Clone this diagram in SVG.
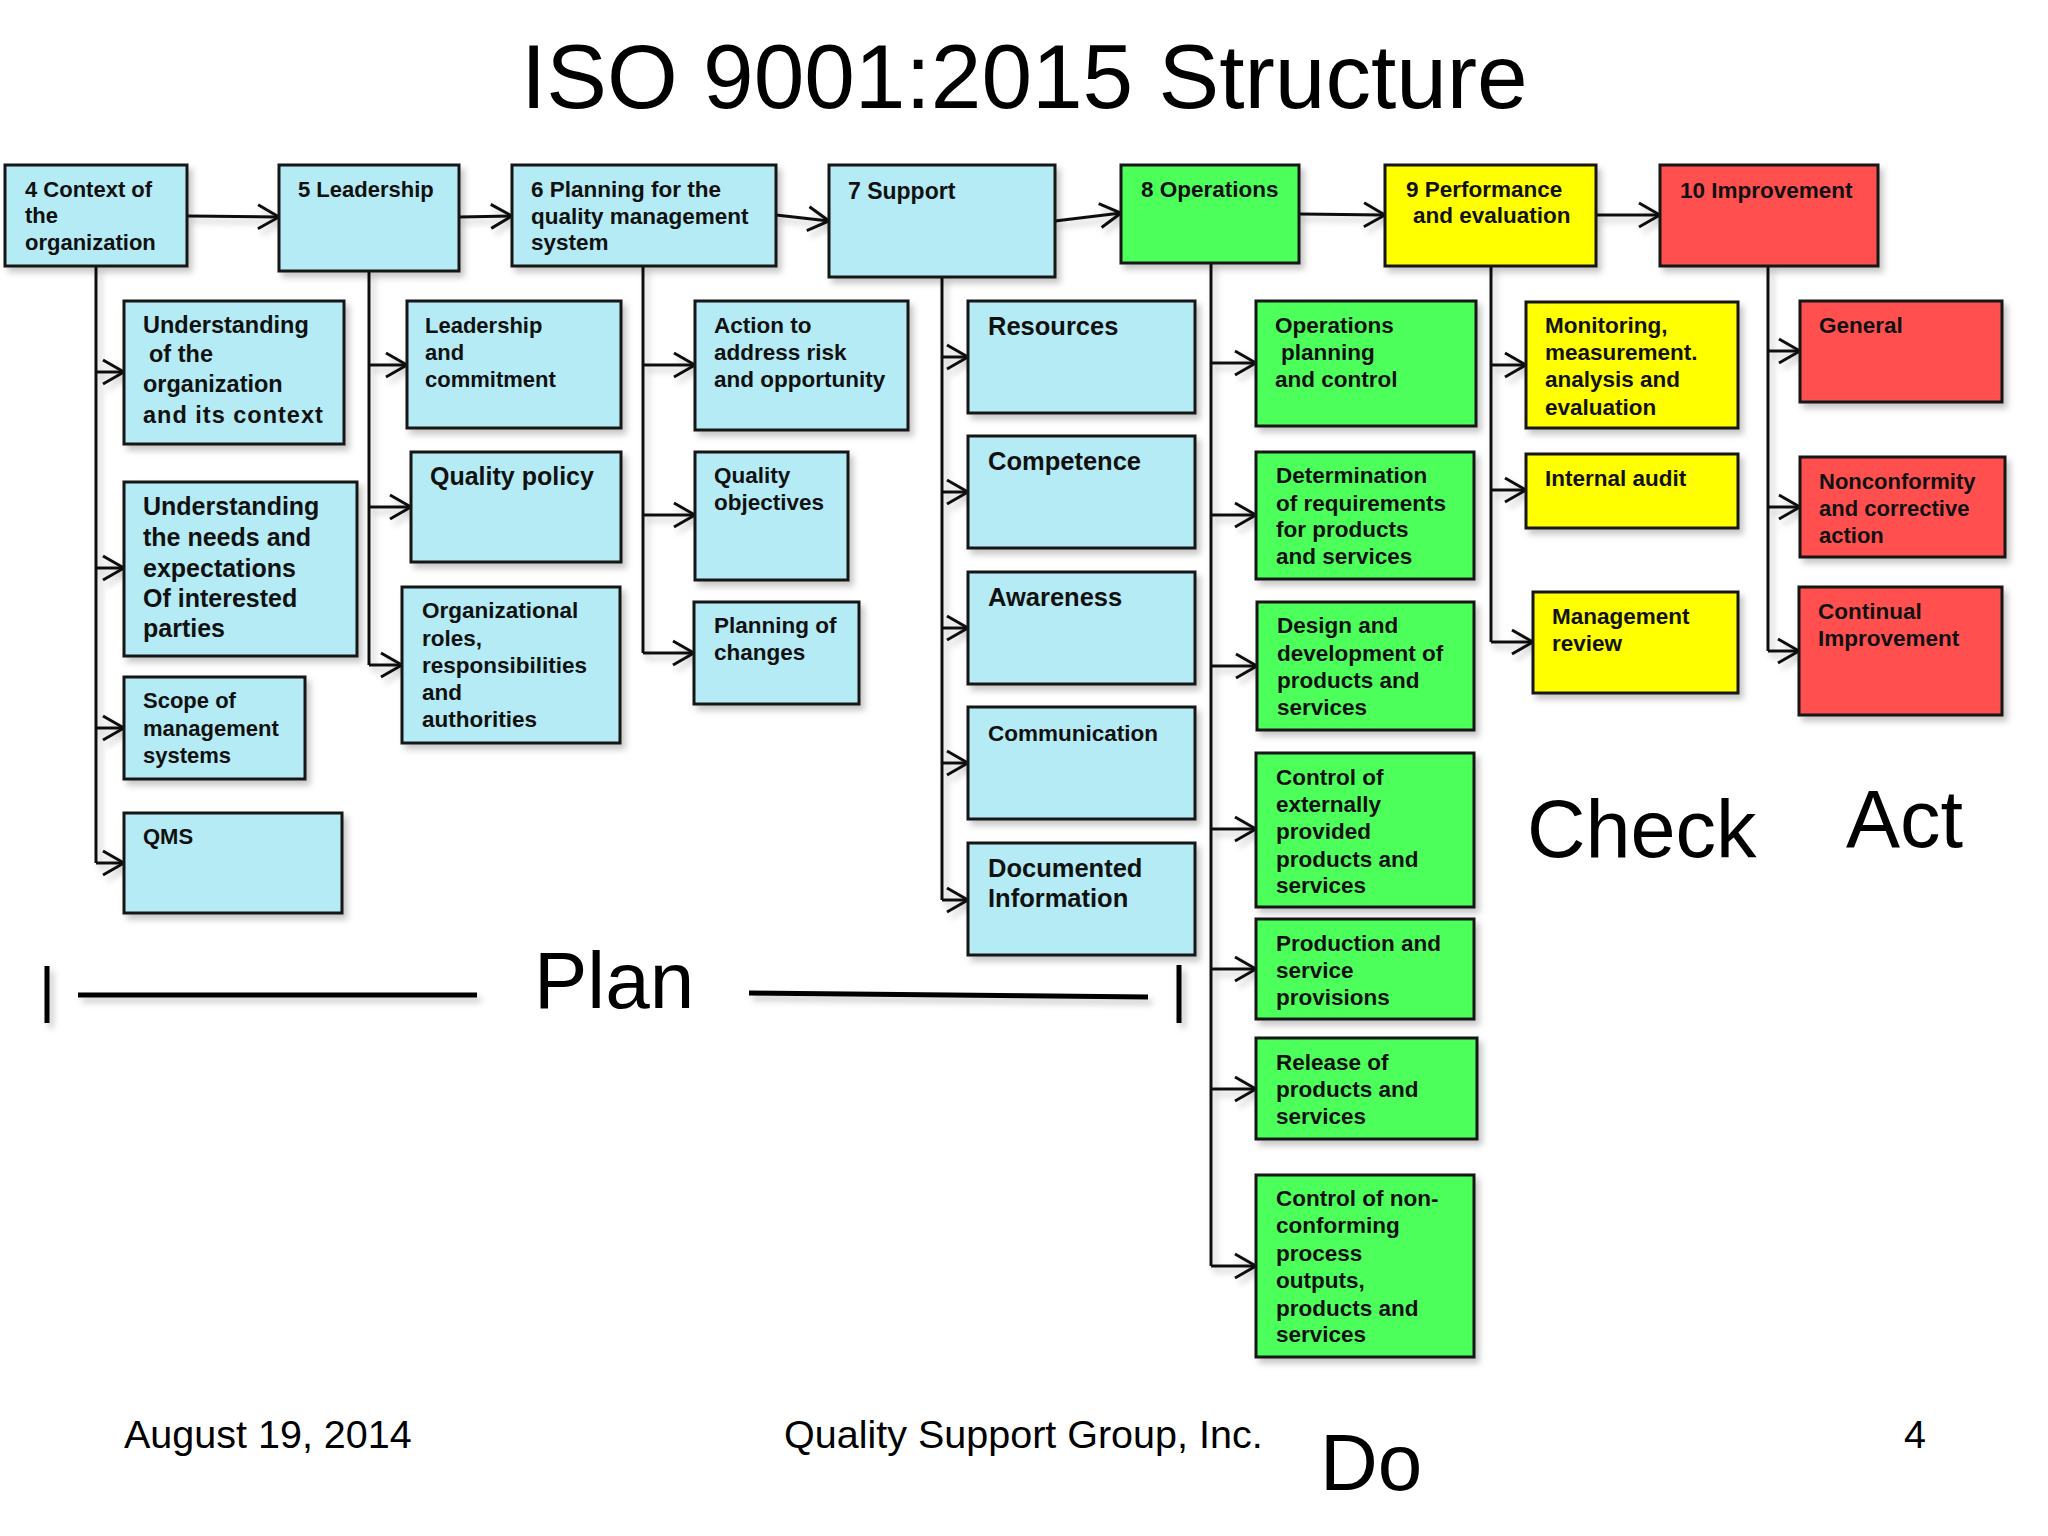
<svg xmlns="http://www.w3.org/2000/svg" width="2048" height="1536" viewBox="0 0 2048 1536">
<defs>
<filter id="sh" x="-10%" y="-10%" width="130%" height="130%">
<feDropShadow dx="4" dy="5" stdDeviation="3" flood-color="#000" flood-opacity="0.22"/>
</filter>
<marker id="arr" viewBox="0 0 24 28" refX="22" refY="14" markerWidth="24" markerHeight="28" markerUnits="userSpaceOnUse" orient="auto">
<path d="M1,2 L22,14 L1,26" fill="none" stroke="#111" stroke-width="3"/>
</marker>
<style>
.bx{stroke:#161616;stroke-width:3;filter:url(#sh)}
.bl{fill:#b4ebf4}.gr{fill:#4dff5a}.ye{fill:#ffff00}.rd{fill:#ff4f4f}
.t{font-family:'Liberation Sans',Arial,Helvetica,sans-serif;font-weight:bold;fill:#111}
.big{font-family:'Liberation Sans',Arial,Helvetica,sans-serif;fill:#000}
.c{stroke:#111;stroke-width:3;fill:none}
.a{stroke:#111;stroke-width:3;fill:none;marker-end:url(#arr)}
.pl{stroke:#000;stroke-width:5;fill:none}
</style>
</defs>
<rect width="2048" height="1536" fill="#fff"/>

<text class="big" x="521" y="108" font-size="91">ISO 9001:2015 Structure</text>

<g id="connectors" filter="url(#sh)">
<path class="a" d="M187,216 L279,217"/>
<path class="a" d="M459,217 L512,216"/>
<path class="a" d="M776,215 L829,221"/>
<path class="a" d="M1055,221 L1121,213"/>
<path class="a" d="M1299,214 L1385,215"/>
<path class="a" d="M1596,215 L1660,215"/>
<path class="c" d="M96,266 V863"/>
<path class="a" d="M96,372 H124"/>
<path class="a" d="M96,568 H124"/>
<path class="a" d="M96,728 H124"/>
<path class="a" d="M96,863 H124"/>
<path class="c" d="M369,271 V665"/>
<path class="a" d="M369,365 H407"/>
<path class="a" d="M369,507 H411"/>
<path class="a" d="M369,665 H402"/>
<path class="c" d="M643,266 V653"/>
<path class="a" d="M643,365 H695"/>
<path class="a" d="M643,515 H695"/>
<path class="a" d="M643,653 H694"/>
<path class="c" d="M942,277 V900"/>
<path class="a" d="M942,357 H968"/>
<path class="a" d="M942,492 H968"/>
<path class="a" d="M942,628 H968"/>
<path class="a" d="M942,763 H968"/>
<path class="a" d="M942,900 H968"/>
<path class="c" d="M1211,263 V1266"/>
<path class="a" d="M1211,363 H1256"/>
<path class="a" d="M1211,515 H1256"/>
<path class="a" d="M1211,666 H1257"/>
<path class="a" d="M1211,829 H1256"/>
<path class="a" d="M1211,969 H1256"/>
<path class="a" d="M1211,1089 H1256"/>
<path class="a" d="M1211,1266 H1256"/>
<path class="c" d="M1491,266 V642"/>
<path class="a" d="M1491,365 H1526"/>
<path class="a" d="M1491,490 H1526"/>
<path class="a" d="M1491,642 H1533"/>
<path class="c" d="M1768,266 V651"/>
<path class="a" d="M1768,351 H1800"/>
<path class="a" d="M1768,507 H1800"/>
<path class="a" d="M1768,651 H1799"/>
</g>

<g id="n-ctx"><rect class="bx bl" x="5" y="165" width="182" height="101"/>
<text class="t" font-size="22"><tspan x="25" y="197">4 Context of</tspan><tspan x="25" y="223">the</tspan><tspan x="25" y="250">organization</tspan></text></g>
<g id="n-lead"><rect class="bx bl" x="279" y="165" width="180" height="106"/>
<text class="t" font-size="22" x="298" y="197">5 Leadership</text></g>
<g id="n-plan"><rect class="bx bl" x="512" y="165" width="264" height="101"/>
<text class="t" font-size="22.5"><tspan x="531" y="197">6 Planning for the</tspan><tspan x="531" y="224">quality management</tspan><tspan x="531" y="250">system</tspan></text></g>
<g id="n-sup"><rect class="bx bl" x="829" y="165" width="226" height="112"/>
<text class="t" font-size="23" x="848" y="199">7 Support</text></g>
<g id="n-ops"><rect class="bx gr" x="1121" y="165" width="178" height="98"/>
<text class="t" font-size="22.5" x="1141" y="197">8 Operations</text></g>
<g id="n-perf"><rect class="bx ye" x="1385" y="165" width="211" height="101"/>
<text class="t" font-size="22.5"><tspan x="1406" y="197">9 Performance</tspan><tspan x="1413" y="223">and evaluation</tspan></text></g>
<g id="n-imp"><rect class="bx rd" x="1660" y="165" width="218" height="101"/>
<text class="t" font-size="22.5" x="1680" y="198">10 Improvement</text></g>

<g id="n-c1"><rect class="bx bl" x="124" y="301" width="220" height="143"/>
<text class="t" font-size="23.5"><tspan x="143" y="333">Understanding</tspan><tspan x="149" y="362">of the</tspan><tspan x="143" y="392">organization</tspan><tspan x="143" y="423" letter-spacing="1">and its context</tspan></text></g>
<g id="n-c2"><rect class="bx bl" x="124" y="482" width="233" height="174"/>
<text class="t" font-size="25"><tspan x="143" y="515">Understanding</tspan><tspan x="143" y="546">the needs and</tspan><tspan x="143" y="577">expectations</tspan><tspan x="143" y="607">Of interested</tspan><tspan x="143" y="637">parties</tspan></text></g>
<g id="n-c3"><rect class="bx bl" x="124" y="677" width="181" height="102"/>
<text class="t" font-size="22"><tspan x="143" y="708">Scope of</tspan><tspan x="143" y="736">management</tspan><tspan x="143" y="763">systems</tspan></text></g>
<g id="n-c4"><rect class="bx bl" x="124" y="813" width="218" height="100"/>
<text class="t" font-size="22" x="143" y="844">QMS</text></g>

<g id="n-l1"><rect class="bx bl" x="407" y="301" width="214" height="127"/>
<text class="t" font-size="22"><tspan x="425" y="333">Leadership</tspan><tspan x="425" y="360">and</tspan><tspan x="425" y="387">commitment</tspan></text></g>
<g id="n-l2"><rect class="bx bl" x="411" y="452" width="210" height="110"/>
<text class="t" font-size="25" x="430" y="485">Quality policy</text></g>
<g id="n-l3"><rect class="bx bl" x="402" y="587" width="218" height="156"/>
<text class="t" font-size="22.5"><tspan x="422" y="618">Organizational</tspan><tspan x="422" y="646">roles,</tspan><tspan x="422" y="673">responsibilities</tspan><tspan x="422" y="700">and</tspan><tspan x="422" y="727">authorities</tspan></text></g>

<g id="n-p1"><rect class="bx bl" x="695" y="301" width="213" height="129"/>
<text class="t" font-size="22.5"><tspan x="714" y="333">Action to</tspan><tspan x="714" y="360">address risk</tspan><tspan x="714" y="387">and opportunity</tspan></text></g>
<g id="n-p2"><rect class="bx bl" x="695" y="452" width="153" height="128"/>
<text class="t" font-size="22.5"><tspan x="714" y="483">Quality</tspan><tspan x="714" y="510">objectives</tspan></text></g>
<g id="n-p3"><rect class="bx bl" x="694" y="602" width="165" height="102"/>
<text class="t" font-size="22.5"><tspan x="714" y="633">Planning of</tspan><tspan x="714" y="660">changes</tspan></text></g>

<g id="n-s1"><rect class="bx bl" x="968" y="301" width="227" height="112"/>
<text class="t" font-size="25.5" x="988" y="335">Resources</text></g>
<g id="n-s2"><rect class="bx bl" x="968" y="436" width="227" height="112"/>
<text class="t" font-size="25.5" x="988" y="470">Competence</text></g>
<g id="n-s3"><rect class="bx bl" x="968" y="572" width="227" height="112"/>
<text class="t" font-size="25.5" x="988" y="606">Awareness</text></g>
<g id="n-s4"><rect class="bx bl" x="968" y="707" width="227" height="112"/>
<text class="t" font-size="22.5" x="988" y="741">Communication</text></g>
<g id="n-s5"><rect class="bx bl" x="968" y="843" width="227" height="112"/>
<text class="t" font-size="25.5"><tspan x="988" y="877">Documented</tspan><tspan x="988" y="907">Information</tspan></text></g>

<g id="n-o1"><rect class="bx gr" x="1256" y="301" width="220" height="125"/>
<text class="t" font-size="22.5"><tspan x="1275" y="333">Operations</tspan><tspan x="1281" y="360">planning</tspan><tspan x="1275" y="387">and control</tspan></text></g>
<g id="n-o2"><rect class="bx gr" x="1256" y="452" width="218" height="127"/>
<text class="t" font-size="22.5"><tspan x="1276" y="483">Determination</tspan><tspan x="1276" y="511">of requirements</tspan><tspan x="1276" y="537">for products</tspan><tspan x="1276" y="564">and services</tspan></text></g>
<g id="n-o3"><rect class="bx gr" x="1257" y="602" width="217" height="128"/>
<text class="t" font-size="22.5"><tspan x="1277" y="633">Design and</tspan><tspan x="1277" y="661">development of</tspan><tspan x="1277" y="688">products and</tspan><tspan x="1277" y="715">services</tspan></text></g>
<g id="n-o4"><rect class="bx gr" x="1256" y="753" width="218" height="154"/>
<text class="t" font-size="22.5"><tspan x="1276" y="785">Control of</tspan><tspan x="1276" y="812">externally</tspan><tspan x="1276" y="839">provided</tspan><tspan x="1276" y="867">products and</tspan><tspan x="1276" y="893">services</tspan></text></g>
<g id="n-o5"><rect class="bx gr" x="1256" y="919" width="218" height="100"/>
<text class="t" font-size="22.5"><tspan x="1276" y="951">Production and</tspan><tspan x="1276" y="978">service</tspan><tspan x="1276" y="1005">provisions</tspan></text></g>
<g id="n-o6"><rect class="bx gr" x="1256" y="1038" width="221" height="101"/>
<text class="t" font-size="22.5"><tspan x="1276" y="1070">Release of</tspan><tspan x="1276" y="1097">products and</tspan><tspan x="1276" y="1124">services</tspan></text></g>
<g id="n-o7"><rect class="bx gr" x="1256" y="1175" width="218" height="182"/>
<text class="t" font-size="22.5"><tspan x="1276" y="1206">Control of non-</tspan><tspan x="1276" y="1233">conforming</tspan><tspan x="1276" y="1261">process</tspan><tspan x="1276" y="1288">outputs,</tspan><tspan x="1276" y="1316">products and</tspan><tspan x="1276" y="1342">services</tspan></text></g>

<g id="n-e1"><rect class="bx ye" x="1526" y="302" width="212" height="126"/>
<text class="t" font-size="22.5"><tspan x="1545" y="333">Monitoring,</tspan><tspan x="1545" y="360">measurement.</tspan><tspan x="1545" y="387">analysis and</tspan><tspan x="1545" y="415">evaluation</tspan></text></g>
<g id="n-e2"><rect class="bx ye" x="1526" y="454" width="212" height="74"/>
<text class="t" font-size="22.5" x="1545" y="486">Internal audit</text></g>
<g id="n-e3"><rect class="bx ye" x="1533" y="592" width="205" height="101"/>
<text class="t" font-size="22.5"><tspan x="1552" y="624">Management</tspan><tspan x="1552" y="651">review</tspan></text></g>

<g id="n-i1"><rect class="bx rd" x="1800" y="301" width="202" height="101"/>
<text class="t" font-size="22.5" x="1819" y="333">General</text></g>
<g id="n-i2"><rect class="bx rd" x="1800" y="457" width="205" height="100"/>
<text class="t" font-size="22"><tspan x="1819" y="489">Nonconformity</tspan><tspan x="1819" y="516">and corrective</tspan><tspan x="1819" y="543">action</tspan></text></g>
<g id="n-i3"><rect class="bx rd" x="1799" y="587" width="203" height="128"/>
<text class="t" font-size="22.5"><tspan x="1818" y="619">Continual</tspan><tspan x="1818" y="646">Improvement</tspan></text></g>

<g id="phases" filter="url(#sh)">
<path class="pl" d="M47,966 V1023"/>
<path class="pl" d="M78,995 H477"/>
<path class="pl" d="M749,993 L1148,997"/>
<path class="pl" d="M1179,965 V1023"/>
</g>
<text class="big" x="534" y="1008" font-size="80">Plan</text>
<text class="big" x="1527" y="857" font-size="81">Check</text>
<text class="big" x="1846" y="847" font-size="81">Act</text>
<text class="big" x="1320" y="1490" font-size="80">Do</text>

<text class="big" x="124" y="1448" font-size="39.5">August 19, 2014</text>
<text class="big" x="784" y="1448" font-size="39.5">Quality Support Group, Inc.</text>
<text class="big" x="1904" y="1448" font-size="39.5">4</text>
</svg>
